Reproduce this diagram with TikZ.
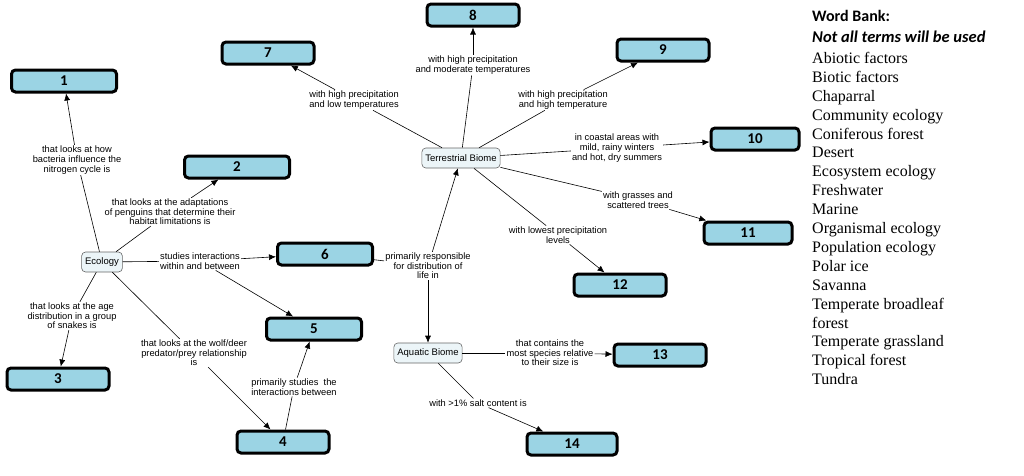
\documentclass[tikz,border=0pt]{standalone}
\usepackage{fontspec}
\setmainfont{Liberation Sans}
\newfontfamily\wbser{Liberation Serif}
\newfontfamily\wbhead{Carlito}
\usetikzlibrary{arrows.meta}
\begin{document}
\begin{tikzpicture}[x=1pt,y=-1pt,
  box/.style={draw=black,line width=3pt,rounded corners=4pt,fill={rgb,255:red,155;green,212;blue,228},minimum width=92pt,minimum height=22pt,font=\wbhead\bfseries\fontsize{15}{15}\selectfont},
  concept/.style={draw=gray!80!black,line width=0.6pt,rounded corners=4pt,fill={rgb,255:red,236;green,245;blue,248},font=\fontsize{9.5}{10}\selectfont,inner sep=3.5pt,minimum height=20pt},
  lab/.style={font=\fontsize{9.3}{9.6}\selectfont,align=center,inner sep=1pt},
  ln/.style={draw,line width=0.6pt},
  arr/.style={ln,-{Latex[length=7pt,width=6pt]}}]
\useasboundingbox (0,0) rectangle (1024,475);
% boxes
\node[box,minimum width=105pt] (n1) at (64,81) {1};
\node[box,minimum width=105pt] (n2) at (237,167) {2};
\node[box,minimum width=102pt] (n3) at (58,379) {3};
\node[box] (n4) at (283,442) {4};
\node[box,minimum width=95pt] (n5) at (314,329) {5};
\node[box,minimum width=95pt] (n6) at (325,254) {6};
\node[box] (n7) at (268,53) {7};
\node[box] (n8) at (473,15) {8};
\node[box] (n9) at (663,50) {9};
\node[box,minimum width=88pt] (n10) at (755,139) {10};
\node[box,minimum width=88pt] (n11) at (748,233) {11};
\node[box] (n12) at (620,285) {12};
\node[box] (n13) at (660,355) {13};
\node[box,minimum width=90pt] (n14) at (572,444) {14};
% concepts
\node[concept] (eco) at (102,262) {Ecology};
\node[concept] (ter) at (461,158) {Terrestrial Biome};
\node[concept] (aq) at (428,353) {Aquatic Biome};
% labels
\node[lab] (l1) at (77,160) {that looks at how\\bacteria influence the\\nitrogen cycle is};
\node[lab] (l2) at (170,212) {that looks at the adaptations\\of penguins that determine their\\habitat limitations is};
\node[lab] (l6) at (200,261) {studies interactions\\within and between};
\node[lab] (l3) at (72,316) {that looks at the age\\distribution in a group\\of snakes is};
\node[lab] (l4) at (194,353) {that looks at the wolf/deer\\predator/prey relationship\\is};
\node[lab] (l45) at (294,387) {primarily studies\ \ the\\interactions between};
\node[lab] (lb) at (428,266) {primarily responsible\\for distribution of\\life in};
\node[lab] (l7) at (354,100) {with high precipitation\\and low temperatures};
\node[lab] (l8) at (473,65) {with high precipitation\\and moderate temperatures};
\node[lab] (l9) at (563,100) {with high precipitation\\and high temperature};
\node[lab] (l10) at (617,148) {in coastal areas with\\mild, rainy winters\\and hot, dry summers};
\node[lab] (l11) at (638,200) {with grasses and\\scattered trees};
\node[lab] (l12) at (558,235) {with lowest precipitation\\levels};
\node[lab] (l13) at (550,353) {that contains the\\most species relative\\to their size is};
\node[lab] (l14) at (478,403) {with >1\% salt content is};
% connectors
\draw[ln] (eco) -- (l1); \draw[arr] (l1) -- (n1);
\draw[ln] (eco) -- (l2); \draw[arr] (l2) -- (n2);
\draw[ln] (eco) -- (l6); \draw[arr] (l6) -- (n6); \draw[arr] (l6) -- (n5);
\draw[ln] (eco) -- (l3); \draw[arr] (l3) -- (n3);
\draw[ln] (eco) -- (l4); \draw[arr] (l4) -- (n4);
\draw[ln] (n4) -- (l45); \draw[arr] (l45) -- (n5);
\draw[ln] (n6) -- (lb); \draw[arr] (lb) -- (ter); \draw[arr] (lb) -- (aq);
\draw[ln] (ter) -- (l7); \draw[arr] (l7) -- (n7);
\draw[ln] (ter) -- (l8); \draw[arr] (l8) -- (n8);
\draw[ln] (ter) -- (l9); \draw[arr] (l9) -- (n9);
\draw[ln] (ter) -- (l10); \draw[arr] (l10) -- (n10);
\draw[ln] (ter) -- (l11); \draw[arr] (l11) -- (n11);
\draw[ln] (ter) -- (l12); \draw[arr] (l12) -- (n12);
\draw[ln] (aq) -- (l13); \draw[arr] (l13) -- (n13);
\draw[ln] (aq) -- (l14); \draw[arr] (l14) -- (n14);
% word bank
\node[anchor=north west,inner sep=0pt,font=\wbhead\bfseries\fontsize{16}{19}\selectfont] (wb1) at (812,10) {Word Bank:};
\node[anchor=north west,inner sep=0pt,font=\wbhead\bfseries\itshape\fontsize{16.5}{19}\selectfont] (wb2) at (812,31) {Not all terms will be used};
\node[anchor=north west,inner sep=0pt,align=left,font=\wbser\fontsize{16}{18.9}\selectfont] (wb3) at (812,52) {Abiotic factors\\Biotic factors\\Chaparral\\Community ecology\\Coniferous forest\\Desert\\Ecosystem ecology\\Freshwater\\Marine\\Organismal ecology\\Population ecology\\Polar ice\\Savanna\\Temperate broadleaf\\forest\\Temperate grassland\\Tropical forest\\Tundra};
\end{tikzpicture}
\end{document}
